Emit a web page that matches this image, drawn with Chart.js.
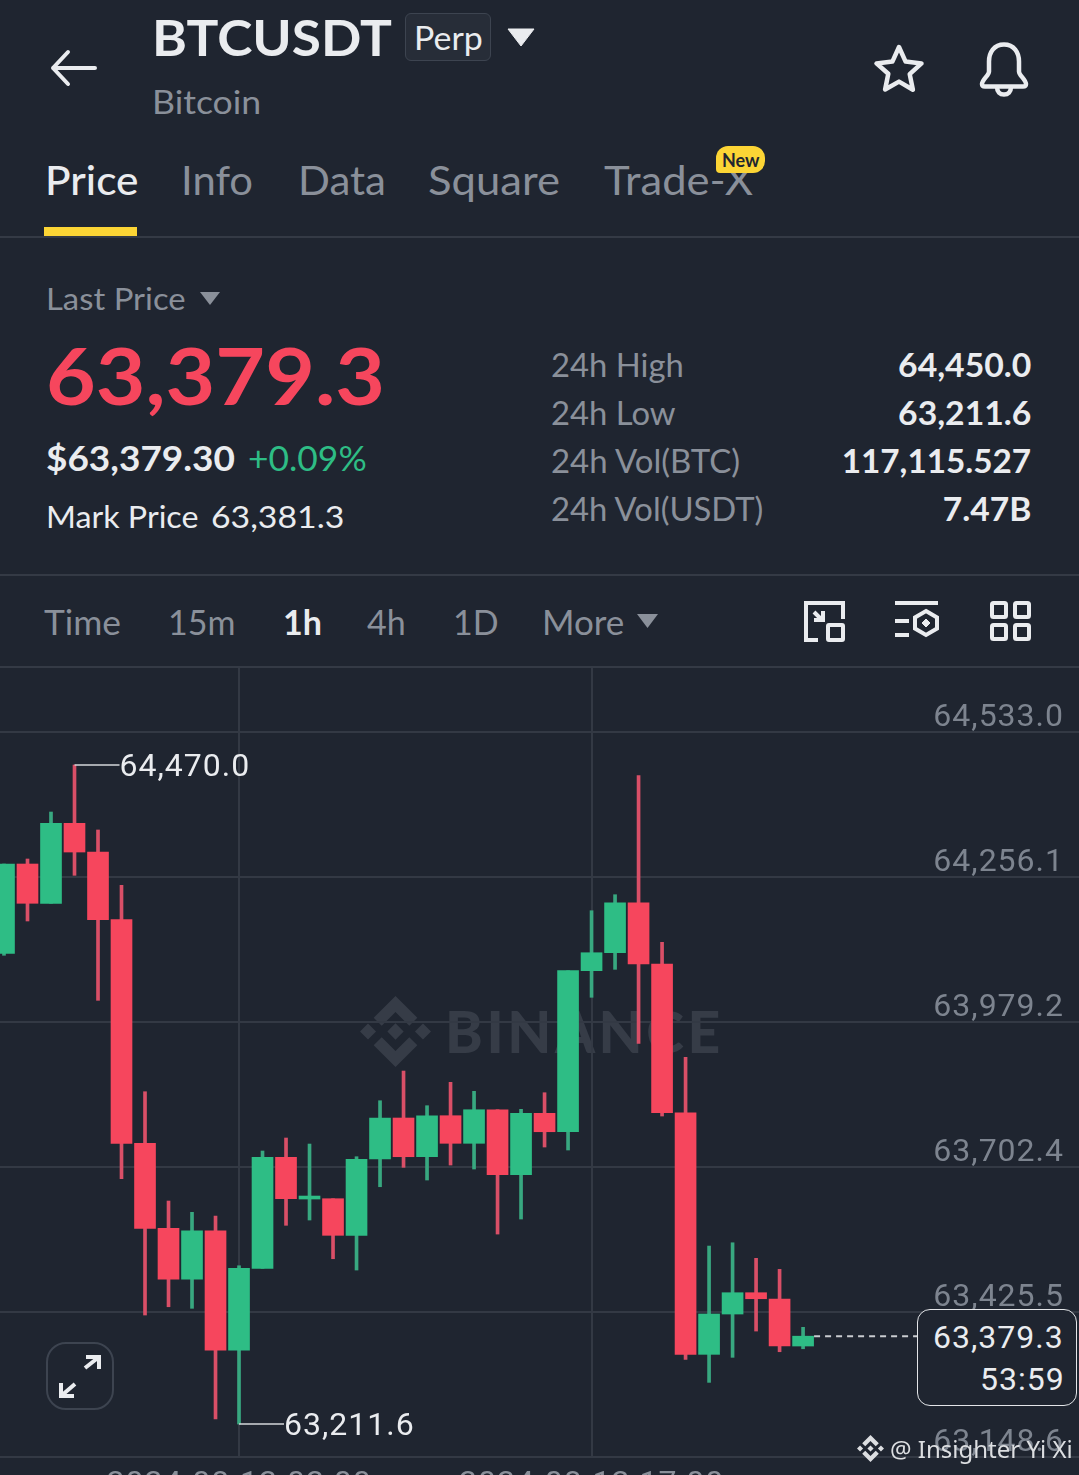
<!DOCTYPE html>
<html>
<head>
<meta charset="utf-8">
<title>BTCUSDT Perp</title>
<script src="https://cdn.jsdelivr.net/npm/chart.js@4"></script>
<style>
html, body { margin: 0; padding: 0; background: #1f2530; width: 1079px; height: 1475px; overflow: hidden; }
body { position: relative; font-family: Lato, sans-serif; color: #eaecef; }
.t { position: absolute; white-space: nowrap; line-height: 1; transform: translateY(-50%) scaleX(var(--s, 1)); transform-origin: left center; }
.r { position: absolute; white-space: nowrap; line-height: 1; transform: translateY(-50%) scaleX(var(--s, 1)); transform-origin: right center; right: 48px; font-weight: 700; font-size: 32px; }
.grey { color: #8a909a; }
.line { position: absolute; left: 0; width: 1079px; height: 2px; background: #343a45; }
.num { font: 400 32px Roboto, sans-serif; letter-spacing: 1px; }
svg { position: absolute; overflow: visible; }
#chart { position: absolute; left: 0; top: 668px; }
#wm { position: absolute; left: 445px; top: 1031px; transform: translateY(-50%); font: 900 57px Lato, sans-serif; letter-spacing: 3.6px; color: #363c47; line-height: 1; }
#priceBox { position: absolute; left: 917px; top: 1309px; width: 158px; height: 95px; border: 1.5px solid #e3e5e8; border-radius: 13px; background: #1f2530; }
#credit { position: absolute; left: 890px; top: 1449px; transform: translateY(-50%); font: 400 24px "Noto Sans", sans-serif; color: #dcdee1; line-height: 1; white-space: nowrap; }
</style>
</head>
<body>

<!-- header -->
<svg style="left:50px;top:50px" width="46" height="36" fill="none" stroke="#eaecef" stroke-width="4" stroke-linecap="round" stroke-linejoin="round"><path d="M45 18H3M18 2 3 18l15 16"/></svg>
<div class="t" style="left:152px;top:37px;font-size:50px;font-weight:700;--s:1.063">BTCUSDT</div>
<div style="position:absolute;left:405px;top:13px;width:84px;height:46px;border:1.5px solid #3d4450;border-radius:6px;background:#272d38"></div>
<div class="t" style="left:414px;top:38px;font-size:32px;--s:1.06">Perp</div>
<svg style="left:508px;top:28px" width="26" height="19"><path d="M0 1H26L13 18Z" fill="#eaecef" stroke="#eaecef" stroke-linejoin="round"/></svg>
<div class="t grey" style="left:152px;top:101px;font-size:33px;--s:1.08">Bitcoin</div>
<svg style="left:874px;top:44px" width="50" height="48" fill="none" stroke="#eaecef" stroke-width="4.5" stroke-linejoin="round"><path d="M25 3l6.600 14.600 15.900 1.800-11.800 10.700 3.200 15.700L25 37.600l-13.900 7.900 3.200-15.700L2.500 19.400l15.900-1.800z"/></svg>
<svg style="left:979px;top:42px" width="50" height="54" fill="none" stroke="#eaecef" stroke-width="4.5" stroke-linejoin="round"><path d="M25 2.500c-10 0-15 8-15 17v10c0 4-7 8-7 12.500 0 1.500 1 2.500 3 2.500h38c2 0 3-1 3-2.500 0-4.500-7-8.500-7-12.500v-10c0-9-5-17-15-17z"/><path d="M18 45c0 5 3 7.500 7 7.500s7-2.500 7-7.500"/></svg>

<!-- tabs -->
<div class="t" style="left:45px;top:180px;font-size:40px;font-weight:500;--s:1.06">Price</div>
<div class="t grey" style="left:181px;top:180px;font-size:40px;--s:1.045">Info</div>
<div class="t grey" style="left:298px;top:180px;font-size:40px;--s:1.05">Data</div>
<div class="t grey" style="left:428px;top:180px;font-size:40px;--s:1.09">Square</div>
<div class="t grey" style="left:604px;top:180px;font-size:40px;--s:1.09">Trade-X</div>
<div style="position:absolute;left:716px;top:146px;width:49px;height:27px;border-radius:12px 12px 12px 4px;background:#fcd535"></div>
<div class="t" style="left:722px;top:160px;font-size:18px;font-weight:700;color:#1f2530">New</div>
<div style="position:absolute;left:44px;top:227px;width:93px;height:9px;background:#fcd535"></div>
<div class="line" style="top:236px"></div>

<!-- price panel -->
<div class="t grey" style="left:46px;top:298px;font-size:31px;--s:1.06">Last Price</div>
<svg style="left:200px;top:292px" width="20" height="13"><path d="M0 0H20L10 13Z" fill="#8a909a"/></svg>
<div class="t" style="left:46px;top:375px;font-size:78px;font-weight:700;color:#f6465d;--s:1.1">63,379.3</div>
<div class="t" style="left:46px;top:458px;font-size:34px;font-weight:700;--s:1.087">$63,379.30</div>
<div class="t" style="left:248px;top:458px;font-size:34px;color:#2ebd85;--s:1.04">+0.09%</div>
<div class="t" style="left:46px;top:516px;font-size:31px;--s:1.04">Mark Price</div>
<div class="t" style="left:211px;top:516px;font-size:31px;--s:1.09">63,381.3</div>
<div class="t grey" style="left:551px;top:365px;font-size:32px;--s:1.025">24h High</div>
<div class="t grey" style="left:551px;top:413px;font-size:32px;--s:1.025">24h Low</div>
<div class="t grey" style="left:551px;top:461px;font-size:32px;--s:1.03">24h Vol(BTC)</div>
<div class="t grey" style="left:551px;top:509px;font-size:32px;--s:1.025">24h Vol(USDT)</div>
<div class="r" style="top:365px;--s:1.055">64,450.0</div>
<div class="r" style="top:413px;--s:1.055">63,211.6</div>
<div class="r" style="top:461px;--s:1.04">117,115.527</div>
<div class="r" style="top:509px;--s:1.05">7.47B</div>
<div class="line" style="top:574px"></div>

<!-- interval bar -->
<div class="t grey" style="left:44px;top:622px;font-size:34px;--s:1.04">Time</div>
<div class="t grey" style="left:168px;top:622px;font-size:34px">15m</div>
<div class="t" style="left:283px;top:622px;font-size:34px;font-weight:700">1h</div>
<div class="t grey" style="left:367px;top:622px;font-size:34px">4h</div>
<div class="t grey" style="left:453px;top:622px;font-size:34px">1D</div>
<div class="t grey" style="left:542px;top:622px;font-size:34px;--s:1.03">More</div>
<svg style="left:637px;top:614px" width="21" height="14"><path d="M0 0H21L10.500 14Z" fill="#8a909a"/></svg>
<svg style="left:804px;top:601px" width="41" height="41" fill="none" stroke="#eaecef" stroke-width="4"><path d="M14 39H2V2h37v16"/><rect x="24" y="24" width="15" height="15" rx="1"/><path d="M10 11l8 8M19 10v9h-9"/></svg>
<svg style="left:895px;top:601px" width="44" height="40" fill="none" stroke="#eaecef" stroke-width="4"><path d="M0 2h43M0 20h14M0 34h14"/><path d="M31 10l11 6.500v11L31 34l-11-6.500v-11z"/><path d="M31 18l4 4-4 4-4-4z" fill="#eaecef" stroke-width="1"/></svg>
<svg style="left:990px;top:601px" width="41" height="40" fill="none" stroke="#eaecef" stroke-width="4"><rect x="2" y="2" width="14" height="14" rx="1.500"/><rect x="25" y="2" width="14" height="14" rx="1.500"/><rect x="2" y="24" width="14" height="14" rx="1.500"/><rect x="25" y="24" width="14" height="14" rx="1.500"/></svg>
<div class="line" style="top:666px"></div>

<!-- watermark sits under the transparent canvas -->
<svg style="left:360px;top:996px" width="71" height="71" viewBox="0 0 126.61 126.61" fill="#363c47"><path d="m38.73 53.2 24.59-24.58 24.6 24.6 14.3-14.31L63.32 0 24.43 38.9zM0 63.31l14.3-14.31 14.31 14.31-14.31 14.3zM38.73 73.41l24.59 24.59 24.6-24.6 14.31 14.29-38.9 38.91-38.91-38.88zM98 63.31l14.3-14.31 14.31 14.3-14.31 14.32zM77.83 63.3 63.32 48.78 52.59 59.51l-1.24 1.23-2.54 2.54 14.51 14.52 14.51-14.52z"/></svg>
<div id="wm">BINANCE</div>

<canvas id="chart" width="1079" height="807"></canvas>

<!-- overlays on the chart -->
<div id="priceBox"></div>
<div class="t num" style="left:933px;top:1337px">63,379.3</div>
<div class="t num" style="left:980px;top:1379px">53:59</div>
<div style="position:absolute;left:46px;top:1342px;width:64px;height:64px;border:2.5px solid #3d4450;border-radius:20px"></div>
<svg style="left:58px;top:1355px" width="44" height="44" fill="none" stroke="#eaecef" stroke-width="4"><path d="M27 13 41 2M28 2h13v12"/><path d="M17 29 3 41M3 28v13h13"/></svg>
<svg style="left:857px;top:1435px" width="27" height="27" viewBox="0 0 126.61 126.61" fill="#dcdee1"><path d="m38.73 53.2 24.59-24.58 24.6 24.6 14.3-14.31L63.32 0 24.43 38.9zM0 63.31l14.3-14.31 14.31 14.31-14.31 14.3zM38.73 73.41l24.59 24.59 24.6-24.6 14.31 14.29-38.9 38.91-38.91-38.88zM98 63.31l14.3-14.31 14.31 14.3-14.31 14.32zM77.83 63.3 63.32 48.78 52.59 59.51l-1.24 1.23-2.54 2.54 14.51 14.52 14.51-14.52z"/></svg>
<div id="credit">@ Insighter Yi Xi</div>

<script>
// hourly candles
const hours = ['16:00', '17:00', '18:00', '19:00', '20:00', '21:00', '22:00', '23:00', '00:00', '01:00', '02:00', '03:00',
    '04:00', '05:00', '06:00', '07:00', '08:00', '09:00', '10:00', '11:00', '12:00', '13:00', '14:00', '15:00', '16:00',
    '17:00', '18:00', '19:00', '20:00', '21:00', '22:00', '23:00', '00:00', '01:00', '02:00'];
const opens = [64110.4, 64280.9, 64205.9, 64358.6, 64303.8, 64174.6, 63747.6, 63585.2, 63488.4, 63580.6, 63352.8, 63508.8,
    63720.8, 63641.2, 63641.8, 63571.9, 63717.6, 63795.9, 63722.0, 63800.3, 63747.6, 63811.7, 63687.6, 63804.8, 63769.7,
    64077.2, 64111.5, 64207.0, 64090.0, 63806.0, 63344.6, 63421.6, 63462.3, 63450.2, 63360.5];
const highs = [64280.9, 64290.5, 64380.2, 64470.0, 64345.9, 64240.2, 63846.1, 63637.4, 63615.8, 63608.7, 63513.8, 63732.9,
    63757.7, 63746.2, 63641.8, 63722.0, 63828.9, 63885.6, 63819.4, 63864.0, 63846.9, 63811.7, 63812.5, 63844.2, 64077.2,
    64191.7, 64222.3, 64450.0, 64131.4, 63911.8, 63551.4, 63557.7, 63528.0, 63506.9, 63396.2];
const lows = [64106.6, 64172.1, 64205.9, 64259.3, 64020.6, 63680.0, 63419.7, 63435.5, 63432.5, 63221.1, 63211.6, 63508.8,
    63591.0, 63601.1, 63527.2, 63505.6, 63664.7, 63701.7, 63677.5, 63706.1, 63698.5, 63574.3, 63603.0, 63740.5, 63734.8,
    64026.4, 64079.8, 63938.5, 63799.7, 63335.1, 63291.1, 63338.9, 63389.1, 63349.6, 63355.3];
const closes = [64280.9, 64205.9, 64358.6, 64303.8, 64174.6, 63747.6, 63585.2, 63488.4, 63580.6, 63352.8, 63508.8, 63720.8,
    63641.8, 63646.9, 63571.9, 63717.0, 63795.9, 63722.0, 63800.3, 63747.6, 63811.7, 63687.6, 63804.8, 63769.7, 64077.2,
    64111.5, 64207.0, 64090.0, 63806.0, 63344.6, 63421.6, 63462.3, 63450.8, 63360.5, 63379.3];

const priceTicks = [64533.0, 64256.1, 63979.2, 63702.4, 63425.5, 63148.6];
const timeTicks = [10, 25];
const timeLabels = ['2024-08-12 02:00', '2024-08-12 17:00'];
const lastPrice = 63379.3;

const UP = '#2ebd85', DOWN = '#f6465d';
const UP_WICK = '#38a880', DOWN_WICK = '#d94f67';
const GRID = '#333944';
const priceFmt = v => v.toLocaleString('en-US', { minimumFractionDigits: 1, maximumFractionDigits: 1 });
const isUp = i => closes[i] >= opens[i];

const noPadding = s => { s.paddingTop = 0; s.paddingBottom = 0; s.paddingLeft = 0; s.paddingRight = 0; };

// high / low callouts and the dashed last price line
const marks = {
    id: 'marks',
    beforeDraw(chart) {
        chart.ctx.letterSpacing = '1px';
    },
    afterDatasetsDraw(chart) {
        const { ctx, scales: { x, y } } = chart;
        const callout = (i, value) => {
            const px = x.getPixelForValue(i), py = y.getPixelForValue(value);
            ctx.strokeStyle = '#d5d7da';
            ctx.lineWidth = 1.5;
            ctx.beginPath();
            ctx.moveTo(px, py);
            ctx.lineTo(px + 45, py);
            ctx.stroke();
            ctx.fillStyle = '#eaecef';
            ctx.font = '400 32px Roboto, sans-serif';
            ctx.textAlign = 'left';
            ctx.textBaseline = 'middle';
            ctx.fillText(priceFmt(value), px + 45, py + 3);
        };
        const hi = Math.max(...highs), lo = Math.min(...lows);
        callout(highs.indexOf(hi), hi);
        callout(lows.indexOf(lo), lo);

        ctx.save();
        ctx.strokeStyle = '#c9ccd0';
        ctx.lineWidth = 2;
        ctx.setLineDash([6, 5]);
        ctx.beginPath();
        ctx.moveTo(x.getPixelForValue(closes.length - 1) + 11, y.getPixelForValue(lastPrice));
        ctx.lineTo(917, y.getPixelForValue(lastPrice));
        ctx.stroke();
        ctx.restore();
    }
};

new Chart(document.getElementById('chart'), {
    type: 'bar',
    data: {
        labels: hours,
        datasets: [
            {
                label: 'Wick',
                data: hours.map((h, i) => ({ x: i, y: [lows[i], highs[i]] })),
                backgroundColor: hours.map((h, i) => isUp(i) ? UP_WICK : DOWN_WICK),
                barThickness: 3,
                grouped: false,
                order: 2
            },
            {
                label: 'Body',
                data: hours.map((h, i) => ({ x: i, y: [opens[i], closes[i]] })),
                backgroundColor: hours.map((h, i) => isUp(i) ? UP : DOWN),
                barThickness: 21,
                grouped: false,
                order: 1
            }
        ]
    },
    options: {
        responsive: false,
        animation: false,
        layout: { padding: 0 },
        plugins: { legend: { display: false }, tooltip: { enabled: false } },
        scales: {
            x: {
                type: 'linear',
                offset: false,
                min: -0.17,
                max: 45.74,
                afterBuildTicks: s => { s.ticks = timeTicks.map(value => ({ value })); },
                afterFit: s => { s.height = 18; noPadding(s); },
                grid: { color: GRID, lineWidth: 2, drawTicks: false, offset: false },
                border: { display: false },
                ticks: {
                    autoSkip: false,
                    maxRotation: 0,
                    padding: 9,
                    color: '#8a909a',
                    font: { family: 'Roboto', size: 32 },
                    callback: v => timeLabels[timeTicks.indexOf(v)]
                }
            },
            y: {
                position: 'right',
                min: 63148.6,
                max: 64655.2,
                afterBuildTicks: s => { s.ticks = priceTicks.map(value => ({ value })); },
                afterFit: s => { s.width = 0; noPadding(s); },
                grid: { color: GRID, lineWidth: 2, drawTicks: false },
                border: { display: false },
                ticks: {
                    mirror: true,
                    autoSkip: false,
                    padding: -15,
                    labelOffset: -14,
                    color: '#7d848f',
                    font: { family: 'Roboto', size: 32 },
                    callback: priceFmt
                }
            }
        }
    },
    plugins: [marks]
});
</script>
</body>
</html>
